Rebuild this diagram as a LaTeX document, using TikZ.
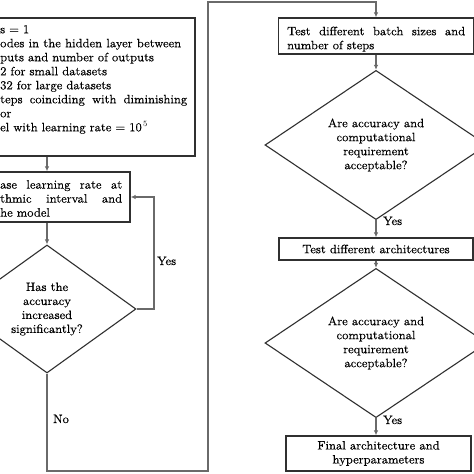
\documentclass[tikz,border=0pt]{standalone}
\usepackage{fontspec}
\setmainfont{Latin Modern Roman}[FakeBold=0.5,FakeStretch=1.06]
\usetikzlibrary{shapes.geometric,arrows.meta}
\definecolor{boxc}{HTML}{303030}
\definecolor{connc}{HTML}{6A6A6A}
\newcommand{\jline}[2]{\leavevmode\hbox to #1{#2}}
\begin{document}
\begin{tikzpicture}[x=1pt,y=-1pt,
  every node/.style={font=\fontsize{12.1}{14}\selectfont, text=black},
  box/.style={draw=boxc, line width=1.3pt, inner sep=0pt},
  txt/.style={inner sep=0pt, align=left},
  dia/.style={draw=boxc, line width=1.1pt, diamond, inner sep=0pt, align=center, minimum height=128pt},
  conn/.style={draw=connc, line width=1.2pt, -{Latex[length=5pt,width=4.5pt]}},
  lbl/.style={inner sep=0pt, anchor=base west}]
\useasboundingbox (0,0) rectangle (474,474);
\fill[white] (0,0) rectangle (474,474);
% left column
\node[box, minimum width=215pt, minimum height=138pt] (b1) at (87.5,87) {};
\node[txt, anchor=north west, text width=190pt] (t1) at (0,25) {s = 1\\
\jline{181pt}{odes\hfill in\hfill the\hfill hidden\hfill layer\hfill between}\\
puts and number of outputs\\
2 for small datasets\\
32 for large datasets\\
\jline{187pt}{teps\hfill coinciding\hfill with\hfill diminishing}\\
or\\
el with learning rate = 10$^{\,5}$};
\node[box, minimum width=150pt, minimum height=50pt] (b2) at (55,197) {};
\node[txt, anchor=north west, text width=125pt] (t2) at (0,180) {\jline{122pt}{ase\hfill learning\hfill rate\hfill at}\\
\jline{122pt}{thmic\hfill interval\hfill and}\\
he model};
\node[dia, minimum width=178pt] (d1) at (47,309) {Has the\\accuracy\\increased\\significantly?};
% right column
\node[box, minimum width=195pt, minimum height=36pt] (b3) at (376,36) {};
\node[txt, anchor=north west, text width=180pt] (t3) at (287,26.5) {\jline{178pt}{Test\hfill different\hfill batch\hfill sizes\hfill and}\\number of steps};
\node[dia, minimum width=222pt] (d2) at (376,145) {Are accuracy and\\computational\\requirement\\acceptable?};
\node[box, minimum width=194pt, minimum height=22pt] (b4) at (376,249) {Test different architectures};
\node[dia, minimum width=222pt] (d3) at (376,343) {Are accuracy and\\computational\\requirement\\acceptable?};
\node[box, minimum width=185pt, minimum height=35pt, align=center] (b5) at (378.5,453.5) {Final architecture and\\hyperparameters};
% coordinates
\coordinate (yc) at (154,197);
\coordinate (n1) at (47,471);
\coordinate (n2) at (208,471);
\coordinate (n3) at (208,2);
\coordinate (n4) at (376,2);
\coordinate (r3) at (495,36);
\coordinate (r4) at (495,249);
% connectors
\draw[conn] (d1.north |- b1.south) -- (d1.north |- b2.north);
\draw[conn] (d1.north |- b2.south) -- (d1.north);
\draw[conn] (d1.east) -| (yc) -- (b2.east);
\draw[conn] (d1.south) -- (n1) -- (n2) -- (n3) -- (n4) -- (b3.north);
\draw[conn] (b3.south) -- (d2.north);
\draw[conn] (d2.south) -- (b4.north);
\draw[conn] (b4.south) -- (d3.north);
\draw[conn] (d3.south) -- (d3.south |- b5.north);
\draw[conn] (r3) -- (b3.east);
\draw[conn] (r4) -- (b4.east);
% labels
\node[lbl] (y1) at (157,265) {Yes};
\node[lbl] (y2) at (383,225) {Yes};
\node[lbl] (y3) at (383,424) {Yes};
\node[lbl] (no) at (53,423) {No};
\end{tikzpicture}
\end{document}
